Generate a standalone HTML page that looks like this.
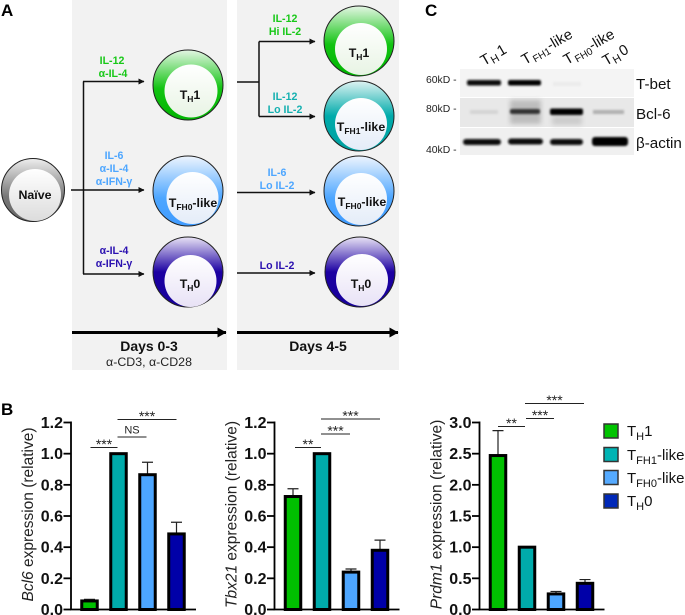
<!DOCTYPE html>
<html><head><meta charset="utf-8"><title>T helper figure</title>
<style>
html,body{margin:0;padding:0;background:#fff;width:685px;height:615px;overflow:hidden}
svg{display:block;font-family:"Liberation Sans",sans-serif}
.arr{stroke:#111;stroke-width:1.5;fill:none}
.cond{font-size:10.6px;font-weight:bold;text-anchor:middle}
.cell{font-size:12.4px;font-weight:bold;text-anchor:middle;fill:#111}
.panel{font-size:17px;font-weight:bold;fill:#000}
.kd{font-size:10.4px;fill:#222}
.lane{font-size:14.8px;fill:#111}
.prot{font-size:15.2px;fill:#111}
</style></head><body>
<svg id="fig" width="685" height="615" viewBox="0 0 685 615" xmlns="http://www.w3.org/2000/svg">
<defs>
<linearGradient id="gG" x1="0" y1="0" x2="0" y2="1"><stop offset="0" stop-color="#e4f6e4"/><stop offset=".55" stop-color="#12c412"/><stop offset="1" stop-color="#00b400"/></linearGradient>
<linearGradient id="gT" x1="0" y1="0" x2="0" y2="1"><stop offset="0" stop-color="#dff3f2"/><stop offset=".5" stop-color="#00abab"/><stop offset="1" stop-color="#00a0a0"/></linearGradient>
<linearGradient id="gB" x1="0" y1="0" x2="0" y2="1"><stop offset="0" stop-color="#eef5fe"/><stop offset=".6" stop-color="#4da6ff"/><stop offset="1" stop-color="#3f9bff"/></linearGradient>
<linearGradient id="gN" x1="0" y1="0" x2="0" y2="1"><stop offset="0" stop-color="#e9e3f5"/><stop offset=".5" stop-color="#1c00a2"/><stop offset="1" stop-color="#16009a"/></linearGradient>
<linearGradient id="gK" x1="0" y1="0" x2="0" y2="1"><stop offset="0" stop-color="#eeeeee"/><stop offset=".6" stop-color="#777"/><stop offset="1" stop-color="#666"/></linearGradient>
<linearGradient id="iG" x1="0" y1="0" x2="0" y2="1"><stop offset="0" stop-color="#fff"/><stop offset="1" stop-color="#e8f4e4"/></linearGradient>
<linearGradient id="iB" x1="0" y1="0" x2="0" y2="1"><stop offset="0" stop-color="#fff"/><stop offset="1" stop-color="#e4ecf8"/></linearGradient>
<linearGradient id="iN" x1="0" y1="0" x2="0" y2="1"><stop offset="0" stop-color="#fff"/><stop offset="1" stop-color="#e8e2f6"/></linearGradient>
<linearGradient id="iK" x1="0" y1="0" x2="0" y2="1"><stop offset="0" stop-color="#fff"/><stop offset="1" stop-color="#dcdcdc"/></linearGradient>
<filter id="b1" x="-20%" y="-80%" width="140%" height="260%"><feGaussianBlur stdDeviation="1"/></filter>
<filter id="b2" x="-20%" y="-80%" width="140%" height="260%"><feGaussianBlur stdDeviation="2.4"/></filter>
<marker id="ah" markerWidth="7" markerHeight="6" refX="5.5" refY="3" orient="auto" markerUnits="userSpaceOnUse"><path d="M0,0 L6,3 L0,6z" fill="#111"/></marker>
<marker id="ahb" markerWidth="10" markerHeight="10" refX="8.5" refY="5" orient="auto" markerUnits="userSpaceOnUse"><path d="M0,0 L9,5 L0,10z" fill="#000"/></marker>
</defs>

<g>
<text class="panel" x="1" y="16">A</text>
<rect x="72" y="0" width="155" height="370" fill="#f2f2f2"/>
<rect x="237" y="0" width="162" height="370" fill="#f2f2f2"/>

<g>
<path class="arr" d="M83.5,81.5 V274"/>
<path class="arr" d="M83,81.5 H144" marker-end="url(#ah)"/>
<path class="arr" d="M71,190 H144" marker-end="url(#ah)"/>
<path class="arr" d="M83,274 H144" marker-end="url(#ah)"/>
</g>
<g>
<path class="arr" d="M237,82 H259 M259,41.5 V116.5"/>
<path class="arr" d="M259,41.5 H315" marker-end="url(#ah)"/>
<path class="arr" d="M259,116.5 H315" marker-end="url(#ah)"/>
<path class="arr" d="M237,192.5 H315" marker-end="url(#ah)"/>
<path class="arr" d="M237,273 H315" marker-end="url(#ah)"/>
</g>

<g class="cond" fill="#18c818"><text x="112" y="64">IL-12</text><text x="113" y="77">α-IL-4</text></g>
<g class="cond" fill="#4da6ff"><text x="114" y="159">IL-6</text><text x="114" y="172">α-IL-4</text><text x="114" y="185">α-IFN-γ</text></g>
<g class="cond" fill="#2a10b0"><text x="114" y="254">α-IL-4</text><text x="114" y="267">α-IFN-γ</text></g>
<g class="cond" fill="#18c818"><text x="285" y="22">IL-12</text><text x="285" y="35">Hi IL-2</text></g>
<g class="cond" fill="#14b0b0"><text x="285" y="100">IL-12</text><text x="285" y="113">Lo IL-2</text></g>
<g class="cond" fill="#4da6ff"><text x="277" y="176">IL-6</text><text x="277" y="189">Lo IL-2</text></g>
<g class="cond" fill="#2a10b0"><text x="277" y="269">Lo IL-2</text></g>

<g stroke="#222" stroke-width="1">
<g><circle cx="33" cy="190" r="31.5" fill="url(#gK)"/><circle cx="35" cy="195" r="26" fill="url(#iK)" stroke="none"/></g>
<g><circle cx="188" cy="85" r="35" fill="url(#gG)"/><circle cx="191" cy="91" r="26.5" fill="url(#iG)" stroke="none"/></g>
<g><circle cx="188" cy="191" r="35" fill="url(#gB)"/><circle cx="192.500" cy="198" r="26" fill="url(#iB)" stroke="none"/></g>
<g><circle cx="188" cy="272" r="35" fill="url(#gN)"/><circle cx="190.500" cy="281" r="26" fill="url(#iN)" stroke="none"/></g>
<g><circle cx="359" cy="41" r="35" fill="url(#gG)"/><circle cx="361" cy="49" r="26" fill="url(#iG)" stroke="none"/></g>
<g><circle cx="359" cy="116" r="35" fill="url(#gT)"/><circle cx="361" cy="124" r="26" fill="url(#iB)" stroke="none"/></g>
<g><circle cx="359" cy="191" r="35" fill="url(#gB)"/><circle cx="361" cy="199" r="26" fill="url(#iB)" stroke="none"/></g>
<g><circle cx="360" cy="272" r="35" fill="url(#gN)"/><circle cx="362" cy="280" r="26" fill="url(#iN)" stroke="none"/></g>
</g>

<text class="cell" x="35" y="199">Naïve</text>
<text class="cell" x="190" y="99">T<tspan font-size="8.5" dy="3">H</tspan><tspan dy="-3">1</tspan></text>
<text class="cell" x="193" y="207">T<tspan font-size="8.5" dy="3">FH0</tspan><tspan dy="-3">-like</tspan></text>
<text class="cell" x="190" y="288">T<tspan font-size="8.5" dy="3">H</tspan><tspan dy="-3">0</tspan></text>
<text class="cell" x="359" y="57">T<tspan font-size="8.5" dy="3">H</tspan><tspan dy="-3">1</tspan></text>
<text class="cell" x="361" y="131">T<tspan font-size="8.5" dy="3">FH1</tspan><tspan dy="-3">-like</tspan></text>
<text class="cell" x="362" y="206">T<tspan font-size="8.5" dy="3">FH0</tspan><tspan dy="-3">-like</tspan></text>
<text class="cell" x="361" y="288">T<tspan font-size="8.5" dy="3">H</tspan><tspan dy="-3">0</tspan></text>

<path d="M72,332.5 H226" stroke="#000" stroke-width="3" marker-end="url(#ahb)"/>
<path d="M237,332.5 H398" stroke="#000" stroke-width="3" marker-end="url(#ahb)"/>
<text x="149" y="351" font-size="14" font-weight="bold" text-anchor="middle" fill="#111">Days 0-3</text>
<text x="149" y="366" font-size="12.4" text-anchor="middle" fill="#222">α-CD3, α-CD28</text>
<text x="318" y="351" font-size="14" font-weight="bold" text-anchor="middle" fill="#111">Days 4-5</text>
</g>

<g>
<text class="panel" x="425" y="16">C</text>
<g class="lane">
<text transform="translate(484,66) rotate(-30)">T<tspan font-size="11" dy="3">H</tspan><tspan dy="-3" dx="2">1</tspan></text>
<text transform="translate(525,65) rotate(-30)">T<tspan font-size="10" dy="3" dx="1">FH1</tspan><tspan dy="-3">-like</tspan></text>
<text transform="translate(567,65) rotate(-30)">T<tspan font-size="10" dy="3" dx="1">FH0</tspan><tspan dy="-3">-like</tspan></text>
<text transform="translate(606,66) rotate(-30)">T<tspan font-size="11" dy="3">H</tspan><tspan dy="-3" dx="2">0</tspan></text>
</g>
<g>
<rect x="460" y="69" width="174" height="28" fill="#f4f4f4"/>
<rect x="460" y="98" width="174" height="29" fill="#e8e8e8"/>
<rect x="460" y="128" width="174" height="27" fill="#f0f0f0"/>
<g filter="url(#b1)">
<rect x="467" y="80" width="34" height="5.500" rx="2" fill="#0a0a0a"/>
<rect x="508" y="80" width="33" height="5.500" rx="2" fill="#050505"/>
<rect x="553" y="82" width="28" height="4" fill="#ebebeb"/>
</g>
<g filter="url(#b2)">
<rect x="510" y="100" width="31" height="24" fill="#bdbdbd"/>
<rect x="552" y="116" width="30" height="9" fill="#cccccc"/>
</g>
<g filter="url(#b1)">
<rect x="470" y="110" width="28" height="4" fill="#d4d4d4"/>
<rect x="510" y="109" width="30" height="5" rx="2" fill="#333"/>
<rect x="550" y="108.500" width="33" height="6.500" rx="2" fill="#050505"/>
<rect x="593" y="110" width="31" height="4" fill="#b0b0b0"/>
</g>
<g filter="url(#b1)">
<rect x="463" y="139" width="38" height="6" rx="3" fill="#111"/>
<rect x="508" y="138.500" width="35" height="6" rx="3" fill="#111"/>
<rect x="550" y="139" width="33" height="6" rx="3" fill="#0d0d0d"/>
<rect x="592" y="137" width="36" height="9" rx="3" fill="#050505"/>
</g>
</g>
<text class="kd" x="426" y="83">60kD -</text>
<text class="kd" x="426" y="112">80kD -</text>
<text class="kd" x="426" y="153">40kD -</text>
<text class="prot" x="636" y="89">T-bet</text>
<text class="prot" x="636" y="119">Bcl-6</text>
<text class="prot" x="636" y="148">β-actin</text>
</g>

<text class="panel" x="1" y="415">B</text>
<g id="charts"></g>

<g font-size="15" fill="#111">
<g><rect x="604" y="424" width="14" height="14" fill="#00c400" stroke="#333" stroke-width="1.5"/><text x="627" y="436">T<tspan font-size="11" dy="4">H</tspan><tspan dy="-4">1</tspan></text></g>
<g><rect x="604" y="447.500" width="14" height="14" fill="#00b4b4" stroke="#333" stroke-width="1.5"/><text x="627" y="460">T<tspan font-size="11" dy="4">FH1</tspan><tspan dy="-4">-like</tspan></text></g>
<g><rect x="604" y="470.500" width="14" height="14" fill="#55aaff" stroke="#333" stroke-width="1.5"/><text x="627" y="483">T<tspan font-size="11" dy="4">FH0</tspan><tspan dy="-4">-like</tspan></text></g>
<g><rect x="604" y="494" width="14" height="14" fill="#0028b8" stroke="#333" stroke-width="1.5"/><text x="627" y="506">T<tspan font-size="11" dy="4">H</tspan><tspan dy="-4">0</tspan></text></g>
</g>
</svg>
<script>
const categories = ['TH1', 'TFH1-like', 'TFH0-like', 'TH0'];
const barColors = ['#00c000', '#00abab', '#4da6ff', '#0000a8'];
const bcl6Values = [0.055, 1.0, 0.865, 0.485];
const bcl6Upper = [0.065, 1.0, 0.945, 0.56];
const tbx21Values = [0.725, 1.0, 0.24, 0.38];
const tbx21Upper = [0.775, 1.0, 0.26, 0.445];
const prdm1Values = [2.47, 1.0, 0.25, 0.42];
const prdm1Upper = [2.87, 1.0, 0.29, 0.48];
const ticks12 = [0, 0.2, 0.4, 0.6, 0.8, 1.0, 1.2];
const ticks3 = [0, 0.5, 1.0, 1.5, 2.0, 2.5, 3.0];

const NS = 'http://www.w3.org/2000/svg';
const root = document.getElementById('charts');
function mk(parent, tag, attrs, txt) {
  const el = document.createElementNS(NS, tag);
  for (const k in attrs) el.setAttribute(k, attrs[k]);
  if (txt !== undefined) el.textContent = txt;
  parent.appendChild(el);
  return el;
}
function drawChart(cfg) {
  const g = mk(root, 'g', {});
  
  
  const y0 = 609.5, yTop = 422.5;
  const yScale = v => y0 - (v / cfg.max) * (y0 - yTop);
  const xScale = i => cfg.axisX + 18.5 + i * 29;

  cfg.values.forEach((v, i) => {
    const bx = xScale(i), w = 15.5;
    const errLine = mk(g, 'path', {
      d: 'M' + bx + ',' + yScale(v) + ' V' + yScale(cfg.upper[i]) + ' M' + (bx - 5.5) + ',' + yScale(cfg.upper[i]) + ' H' + (bx + 5.5),
      stroke: '#222', 'stroke-width': 1.2, fill: 'none'
    });
    
    
    const bar = mk(g, 'rect', {
      x: bx - w / 2, y: yScale(v), width: w, height: y0 - yScale(v),
      fill: barColors[i], stroke: '#000', 'stroke-width': 3
    });
    
    
  });

  const axis = mk(g, 'path', {
    d: 'M' + cfg.axisX + ',' + (yTop - 1) + ' V' + y0 + ' H' + (cfg.axisX + 125),
    stroke: '#000', 'stroke-width': 1.8, fill: 'none'
  });
  
  

  cfg.ticks.forEach(t => {
    const tick = mk(g, 'line', {
      x1: cfg.axisX - 7.500, x2: cfg.axisX, y1: yScale(t), y2: yScale(t),
      stroke: '#000', 'stroke-width': 1.8
    });
    
    
    const lab = mk(g, 'text', {
      x: cfg.axisX - 8, y: yScale(t) + 5.5, 'text-anchor': 'end',
      'font-size': 16, 'font-weight': 'bold', fill: '#111'
    }, t.toFixed(1));
    
    
  });

  const title = mk(g, 'text', {
    transform: 'translate(' + (cfg.axisX - 38) + ',514.5) rotate(-90)',
    'text-anchor': 'middle', 'font-size': 15.5, fill: '#222'
  });
  
  
  mk(title, 'tspan', { 'font-style': 'italic' }, cfg.gene);
  mk(title, 'tspan', {}, ' expression (relative)');

  cfg.sig.forEach(s => {
    const ln = mk(g, 'line', {
      x1: xScale(s[0]) + s[4], x2: xScale(s[1]) + s[5], y1: s[2], y2: s[2],
      stroke: '#222', 'stroke-width': 1.1
    });
    
    
    const mid = (xScale(s[0]) + s[4] + xScale(s[1]) + s[5]) / 2;
    const isNs = s[3] === 'NS';
    const tx = mk(g, 'text', {
      x: mid, y: s[2] + (isNs ? -3.5 : 1.5), 'text-anchor': 'middle',
      'font-size': isNs ? 11 : 14, fill: '#222'
    }, s[3]);
    
    
  });
}
drawChart({ id: 'bcl6', gene: 'Bcl6', axisX: 71, max: 1.2, ticks: ticks12, values: bcl6Values, upper: bcl6Upper,
  sig: [[0, 1, 447.5, '***', 1, -1], [1, 2, 437, 'NS', -1, -1], [1, 3, 419.5, '***', -1, 0]] });
drawChart({ id: 'tbx21', gene: 'Tbx21', axisX: 274.5, max: 1.2, ticks: ticks12, values: tbx21Values, upper: tbx21Upper,
  sig: [[0, 1, 447.5, '**', 2, -1], [1, 2, 434, '***', -1, -1], [1, 3, 419, '***', -1, 0]] });
drawChart({ id: 'prdm1', gene: 'Prdm1', axisX: 479.5, max: 3.0, ticks: ticks3, values: prdm1Values, upper: prdm1Upper,
  sig: [[0, 1, 426.5, '**', 0, -2], [1, 2, 418.5, '***', -1, -2], [1, 3, 403.5, '***', -2, -1]] });
</script>
</body></html>
